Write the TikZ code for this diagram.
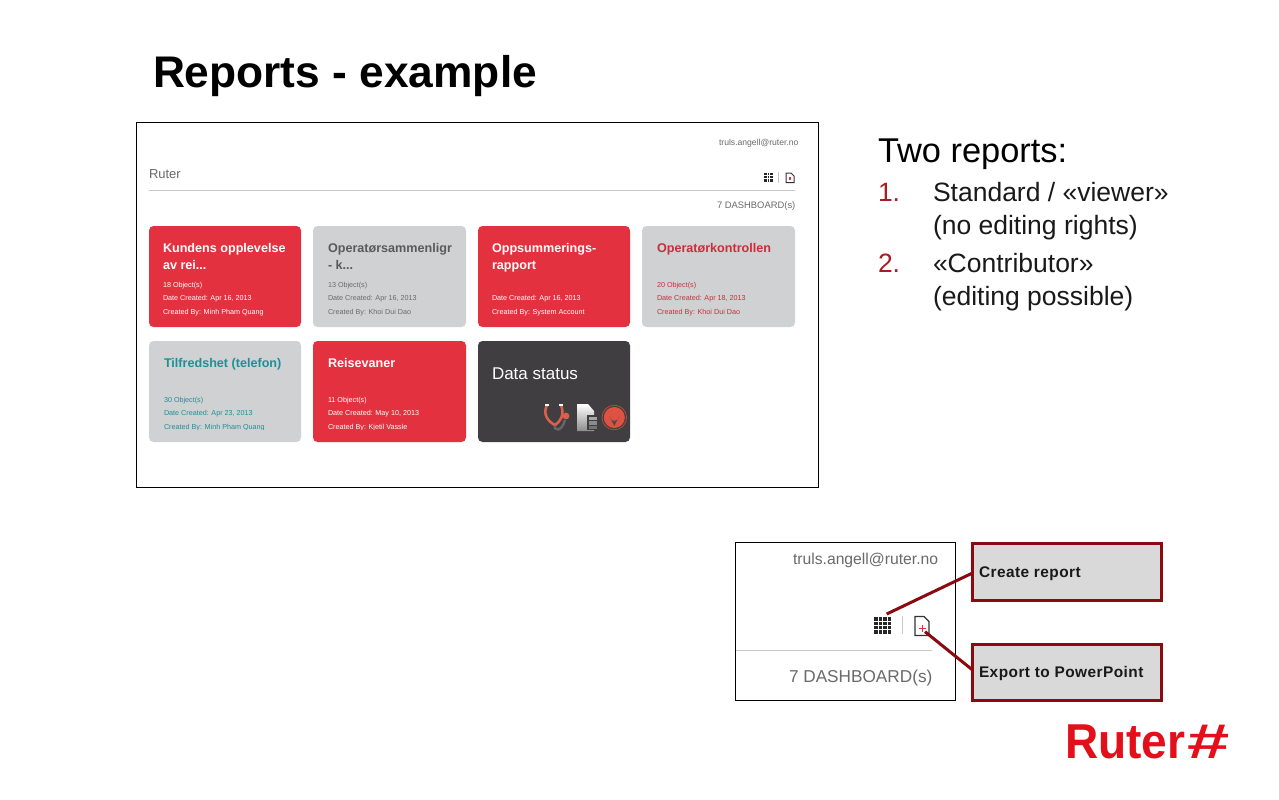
\documentclass[tikz,border=0pt]{standalone}
\usepackage{fontspec}
\setmainfont{Liberation Sans}
\newfontfamily\callfont[LetterSpace=3,FakeBold=0]{Liberation Sans Bold}
\definecolor{cardred}{HTML}{E4313F}
\definecolor{cardgrey}{HTML}{CFD1D3}
\definecolor{carddark}{HTML}{403E40}
\definecolor{linered}{HTML}{8B0A0F}
\definecolor{boxfill}{HTML}{D9D9D9}
\definecolor{logored}{HTML}{E2101A}
\definecolor{listred}{HTML}{A81C24}
\definecolor{greytxt}{HTML}{6A6A6C}
\definecolor{tealtxt}{HTML}{1F8F96}
\definecolor{rule}{HTML}{C8C8C8}
\definecolor{scope}{HTML}{D9604C}
\newcommand{\fs}[1]{\fontsize{#1}{#1}\selectfont}
\tikzset{
 x=1pt,y=-1pt,
 txt/.style={inner sep=0pt,outer sep=0pt,anchor=base west,align=left},
 card/.style={rounded corners=4.5pt,inner sep=0pt,outer sep=0pt},
 cardtitle/.style={txt,font=\bfseries\fs{12.6}},
 cardmeta/.style={txt,font=\fs{7.2}},
 frame/.style={draw=black,line width=0.8pt,fill=white},
 callout/.style={draw=linered,line width=3pt,fill=boxfill,inner sep=0pt,outer sep=0pt,minimum width=188.7pt,minimum height=56.4pt},
 calltxt/.style={txt,font=\callfont\fs{15.4},text=black!90},
 leader/.style={draw=linered,line width=3pt},
 icon/.style={inner sep=0pt,outer sep=0pt,minimum width=0pt,minimum height=0pt},
}
\begin{document}
\begin{tikzpicture}
\useasboundingbox (0,0) rectangle (1279,800);
\fill[white] (0,0) rectangle (1279,800);
% title
\node[txt,font=\bfseries\fs{44.3}] (title) at (153,88) {Reports - example};
% main screenshot
\draw[frame] (136.5,122.5) rectangle (818.5,487.5);
\node[txt,font=\fs{8.6},text=greytxt] (mail) at (719,145) {truls.angell@ruter.no};
\node[txt,font=\fs{13},text=greytxt] (brand) at (149,178) {Ruter};
\draw[rule,line width=0.8pt] (149,190.5) -- (795,190.5);
\node[txt,font=\fs{9.4},text=greytxt] (count) at (717,208) {7 DASHBOARD(s)};
% small icons
\fill[black!85] (764,172.7) rectangle (772.5,181.5);
\draw[white,line width=0.3pt] (766.8,172.7) -- (766.8,181.5) (769.6,172.7) -- (769.6,181.5) (764,175.6) -- (772.5,175.6) (764,178.5) -- (772.5,178.5);
\draw[rule,line width=0.6pt] (778.5,172) -- (778.5,183);
\draw[black!80,line width=1pt] (786,173) -- (791,173) -- (794,176) -- (794,182.5) -- (786,182.5) -- cycle;
\fill[cardred] (788.5,177) rectangle ++(2.5,2.5);
% cards row 1
\fill[card,cardred] (149,226) rectangle (301,327);
\node[cardtitle,text=white] (c1) at (163,252) {Kundens opplevelse};
\node[cardtitle,text=white] (c1b) at (163,269) {av rei...};
\node[cardmeta,text=white] at (163,287) {18 Object(s)};
\node[cardmeta,text=white] at (163,300) {Date Created: Apr 16, 2013};
\node[cardmeta,text=white] at (163,314) {Created By: Minh Pham Quang};
\fill[card,cardgrey] (313,226) rectangle (466,327);
\node[cardtitle,text=greytxt!85!black] (c2) at (328,252) {Operatørsammenligr};
\node[cardtitle,text=greytxt!85!black] (c2b) at (328,269) {- k...};
\node[cardmeta,text=greytxt] at (328,287) {13 Object(s)};
\node[cardmeta,text=greytxt] at (328,300) {Date Created: Apr 16, 2013};
\node[cardmeta,text=greytxt] at (328,314) {Created By: Khoi Dui Dao};
\fill[card,cardred] (478,226) rectangle (630,327);
\node[cardtitle,text=white] (c3) at (492,252) {Oppsummerings-};
\node[cardtitle,text=white] (c3b) at (492,269) {rapport};
\node[cardmeta,text=white] at (492,300) {Date Created: Apr 16, 2013};
\node[cardmeta,text=white] at (492,314) {Created By: System Account};
\fill[card,cardgrey] (642,226) rectangle (795,327);
\node[cardtitle,text=cardred!90!black] (c4) at (657,252) {Operatørkontrollen};
\node[cardmeta,text=cardred!90!black] at (657,287) {20 Object(s)};
\node[cardmeta,text=cardred!90!black] at (657,300) {Date Created: Apr 18, 2013};
\node[cardmeta,text=cardred!90!black] at (657,314) {Created By: Khoi Dui Dao};
% cards row 2
\fill[card,cardgrey] (149,341) rectangle (301,442);
\node[cardtitle,text=tealtxt] (c5) at (164,367) {Tilfredshet (telefon)};
\node[cardmeta,text=tealtxt] at (164,402) {30 Object(s)};
\node[cardmeta,text=tealtxt] at (164,415) {Date Created: Apr 23, 2013};
\begin{scope}
\clip (149,341) rectangle (301,429);
\node[cardmeta,text=tealtxt] at (164,429) {Created By: Minh Pham Quang};
\end{scope}
\fill[card,cardred] (313,341) rectangle (466,442);
\node[cardtitle,text=white] (c6) at (328,367) {Reisevaner};
\node[cardmeta,text=white] at (328,402) {11 Object(s)};
\node[cardmeta,text=white] at (328,415) {Date Created: May 10, 2013};
\begin{scope}
\clip (313,341) rectangle (466,429);
\node[cardmeta,text=white] at (328,429) {Created By: Kjetil Vassle};
\end{scope}
\fill[card,carddark] (478,341) rectangle (630,442);
\node[txt,font=\fs{17},text=white] (c7) at (492,379) {Data status};
% data status icons
\draw[line width=2.4pt,black!60] (555,424) .. controls (553,432) and (562,432) .. (565,420);
\draw[line width=2.6pt,scope] (547,405) .. controls (542,415) and (549,422) .. (555,425);
\draw[line width=2.6pt,scope] (561,405) .. controls (565,415) and (560,422) .. (555,425);
\draw[line width=2pt,white] (545,404.5) -- (549,404.5) (559,404.5) -- (563,404.5);
\fill[scope] (566,416) circle (3.4);
\shade[top color=white,bottom color=black!45] (577,404) -- (588,404) -- (594,411) -- (594,431) -- (577,431) -- cycle;
\fill[carddark] (587,415) rectangle (598,430);
\fill[black!35] (589,416.5) rectangle (597,420);
\fill[black!45] (589,421) rectangle (597,424.5);
\fill[black!55] (589,425.5) rectangle (597,429);
\draw[scope!80!black,line width=0.8pt] (614.3,417.5) circle (12.3);
\fill[scope!85!red] (614.3,417.5) circle (10.5);
\fill[black!70] (614.3,426) -- (609.3,416) arc[start angle=180,end angle=0,radius=5] -- cycle;
\fill[scope!85!red] (614.3,415.5) circle (2);
% right text
\node[txt,font=\fs{34.4},text=black] (head) at (878,162) {Two reports:};
\node[txt,font=\fs{26.5},text=listred] (n1) at (878,201) {1.};
\node[txt,font=\fs{26.5},text=black!90] (l1) at (933,201) {Standard / «viewer»};
\node[txt,font=\fs{26.5},text=black!90] (l1b) at (933,234) {(no editing rights)};
\node[txt,font=\fs{26.5},text=listred] (n2) at (878,272) {2.};
\node[txt,font=\fs{26.5},text=black!90] (l2) at (933,272) {«Contributor»};
\node[txt,font=\fs{26.5},text=black!90] (l2b) at (933,305) {(editing possible)};
% zoom panel
\draw[frame,line width=0.7pt] (735.5,542.5) rectangle (955.5,700.5);
\node[txt,font=\fs{15.7},text=greytxt] (zmail) at (793,564) {truls.angell@ruter.no};
\fill[black!85] (874,616.5) rectangle (891,634);
\draw[white,line width=0.5pt] (878.2,616.5) -- (878.2,634) (882.5,616.5) -- (882.5,634) (886.8,616.5) -- (886.8,634) (874,620.8) -- (891,620.8) (874,625.2) -- (891,625.2) (874,629.6) -- (891,629.6);
\node[icon] (gridicon) at (886.7,614) {};
\draw[rule,line width=0.6pt] (902.5,616) -- (902.5,634);
\draw[black!80,line width=1.3pt] (915,616.5) -- (924,616.5) -- (929,621.5) -- (929,635.5) -- (915,635.5) -- cycle;
\draw[cardred,line width=1pt] (918.5,628) -- (925.5,628) (922,624.5) -- (922,631.5);
\node[icon] (addicon) at (925,631.7) {};
\draw[rule,line width=1.4pt] (736,650.5) -- (932,650.5);
\node[txt,font=\fs{17.2},text=greytxt] (zcount) at (789,682) {7 DASHBOARD(s)};
% callouts
\node[callout] (create) at (1066.9,572) {};
\node[callout] (export) at (1066.9,672.5) {};
\node[calltxt] at (979,577.5) {Create report};
\node[calltxt] at (979,677.5) {Export to PowerPoint};
\coordinate (createend) at ([yshift=-1pt]create.west);
\coordinate (exportend) at ([yshift=2.5pt]export.west);
\draw[leader] (createend) -- (gridicon);
\draw[leader] (exportend) -- (addicon);
% logo
\node[txt,font=\bfseries\fs{49},text=logored] (logo) at (1065,758) {\scalebox{.94}[1]{Ruter}\hspace{2pt}\scalebox{1.55}[1]{\#}};
\end{tikzpicture}
\end{document}
